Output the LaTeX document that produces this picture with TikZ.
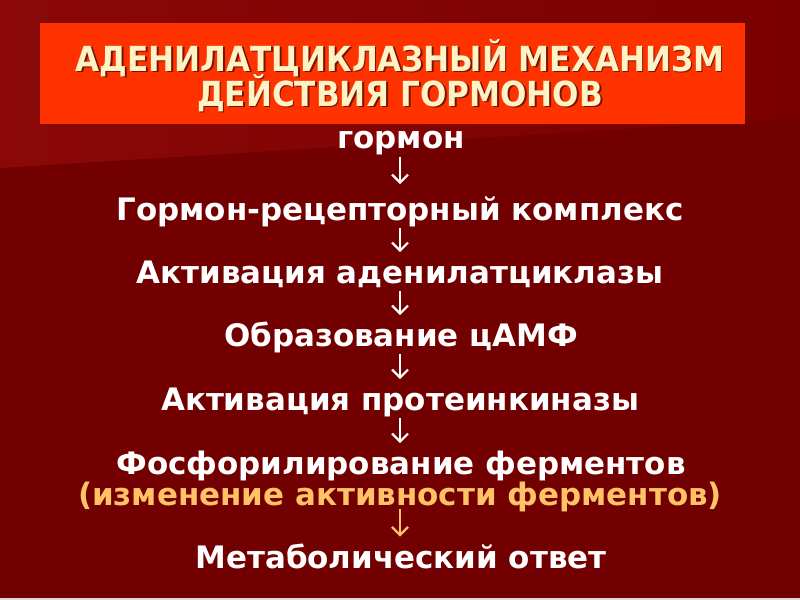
\documentclass[tikz,border=0pt]{standalone}
\usepackage{fontspec}
\setmainfont{DejaVu Sans}
\newfontfamily\titlefont{DejaVu Sans Condensed}
\usetikzlibrary{arrows.meta}
\definecolor{bgdark}{HTML}{730000}
\definecolor{bgtopL}{HTML}{8A0808}
\definecolor{bgtopR}{HTML}{7A0000}
\definecolor{titlebg}{HTML}{FF3300}
\definecolor{titletext}{HTML}{FFF2C4}
\definecolor{titleshadow}{HTML}{4A0A00}
\definecolor{tan}{HTML}{FFC266}
\tikzset{
  bodytext/.style={font=\bfseries\fontsize{23.2}{26}\selectfont, text=white, anchor=base, inner sep=0pt, text height=16.9pt, text depth=0pt},
  titletxt/.style={font=\titlefont\bfseries\fontsize{25.9}{29}\selectfont, text=titletext, anchor=base, inner sep=0pt},
  titleshd/.style={font=\titlefont\bfseries\fontsize{25.9}{29}\selectfont, text=titleshadow, text opacity=0.75, anchor=base, inner sep=0pt},
  arr/.style={draw=white, line width=1.7pt, -{Straight Barb[length=6pt,width=12pt,line width=1.7pt]}, shorten <=6pt, shorten >=6pt},
}
\begin{document}
\begin{tikzpicture}[x=0.75pt,y=-0.75pt]
\useasboundingbox (0,0) rectangle (800,600);
\fill[bgdark] (0,0) rectangle (800,600);
\shade[left color=bgtopL, right color=bgtopR] (0,0) -- (800,0) -- (800,118) -- (0,168) -- cycle;
\fill[gray!30] (0,598) rectangle (800,600);
\fill[titlebg] (40,23) rectangle (745,124);
% title
\node[titleshd] (t1s) at (401.8,72.8) {АДЕНИЛАТЦИКЛАЗНЫЙ МЕХАНИЗМ};
\node[titletxt] (t1) at (400,71) {АДЕНИЛАТЦИКЛАЗНЫЙ МЕХАНИЗМ};
\node[titleshd] (t2s) at (401.8,107.8) {ДЕЙСТВИЯ ГОРМОНОВ};
\node[titletxt] (t2) at (400,106) {ДЕЙСТВИЯ ГОРМОНОВ};
% body
\node[bodytext] (n1) at (401,148) {гормон};
\node[bodytext] (n2) at (400,220) {Гормон-рецепторный комплекс};
\node[bodytext] (n3) at (400,283) {Активация аденилатциклазы};
\node[bodytext] (n4) at (401,346) {Образование цАМФ};
\node[bodytext] (n5) at (400,410) {Активация протеинкиназы};
\node[bodytext] (n6) at (401,474) {Фосфорилирование ферментов};
\node[bodytext, text=tan] (n7) at (400,505) {(изменение активности ферментов)};
\node[bodytext] (n8) at (401,568) {Метаболический ответ};
% arrows
\draw[arr, shorten <=6.75pt, shorten >=9.75pt] (n1.south -| 400,0) -- (n2.north -| 400,0);
\draw[arr] (n2.south -| 400,0) -- (n3.north -| 400,0);
\draw[arr] (n3.south -| 400,0) -- (n4.north -| 400,0);
\draw[arr] (n4.south -| 400,0) -- (n5.north -| 400,0);
\draw[arr] (n5.south -| 400,0) -- (n6.north -| 400,0);
\draw[arr, draw=tan, shorten <=2.5pt, shorten >=6.5pt] (n7.south -| 400,0) -- (n8.north -| 400,0);
\end{tikzpicture}
\end{document}
